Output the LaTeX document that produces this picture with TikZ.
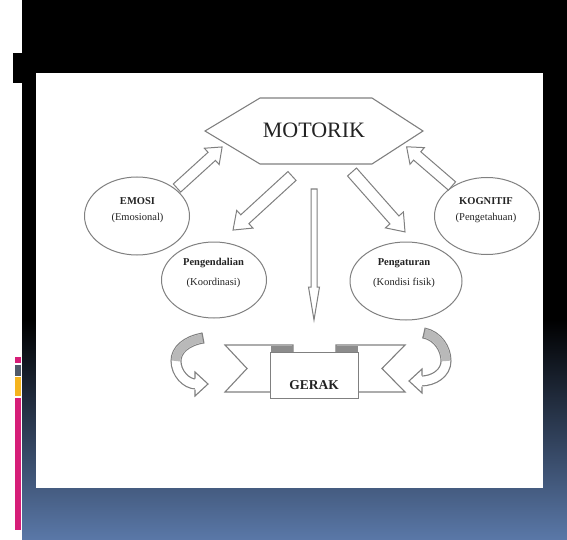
\documentclass[tikz,border=0pt]{standalone}
\usepackage{fontspec}
\setmainfont{Liberation Serif}
\usetikzlibrary{shapes.geometric}
\definecolor{lgray}{RGB}{128,128,128}
\definecolor{bgblue}{RGB}{90,120,168}
\definecolor{pinkbar}{RGB}{214,30,120}
\definecolor{graybar}{RGB}{80,90,105}
\definecolor{yellowbar}{RGB}{245,180,30}
\definecolor{foldgray}{RGB}{140,140,140}
\definecolor{bandgray}{RGB}{185,185,185}
\definecolor{txt}{RGB}{35,35,35}
% #1 start coordinate, #2 angle, #3 length, #4 shaft half width, #5 head half width, #6 head length
\newcommand\blockarrow[6]{%
  \draw[blockarr, shift={(#1)}, rotate=#2]
    (0,-#4) -- ({#3-#6},-#4) -- ({#3-#6},-#5) -- (#3,0) -- ({#3-#6},#5) -- ({#3-#6},#4) -- (0,#4) -- cycle;}
\begin{document}
\begin{tikzpicture}[x=1pt,y=-1pt,
  outl/.style={draw=lgray, line width=1.1pt},
  blockarr/.style={draw=lgray, fill=white, line width=1pt, line join=miter},
  oval/.style={ellipse, draw=lgray, line width=1pt, fill=white, inner sep=0pt},
  etext/.style={align=center, text=txt, inner sep=0pt, font=\fontsize{10.5}{16}\selectfont},
  bandout/.style={line width=11pt, draw=lgray},
  bandin/.style={line width=8.6pt, draw=white},
  bandback/.style={line width=8.6pt, draw=bandgray},
  headst/.style={fill=white, draw=lgray, line width=1.1pt, line join=miter}]
\useasboundingbox (0,0) rectangle (567,540);
% background
\fill[white] (0,0) rectangle (567,540);
\fill[black] (22,0) rectangle (567,321);
\shade[top color=black, bottom color=bgblue] (22,320) rectangle (567,540);
\fill[black] (13,53) rectangle (22.5,83);
\fill[pinkbar] (15,357) rectangle (21,363);
\fill[graybar] (15,365) rectangle (21,376);
\fill[yellowbar] (15,377) rectangle (21,396);
\fill[pinkbar] (15,398) rectangle (21,530);
\fill[white] (36,73) rectangle (543,488);

% MOTORIK hexagon
\draw[outl, fill=white] (205,131) -- (260,98) -- (372,98) -- (423,131) -- (372,164) -- (260,164) -- cycle;
\node[text=txt, font=\fontsize{22}{24}\selectfont, inner sep=0pt] (motorik) at (314,130) {MOTORIK};

% ellipses
\node[oval, minimum width=105pt, minimum height=78pt] (emosi) at (137,216) {};
\node[etext] (emosit) at (137.5,210.5) {\textbf{EMOSI}\\(Emosional)};
\node[oval, minimum width=105pt, minimum height=77pt] (kognitif) at (487,216) {};
\node[etext] (kognitift) at (486,210) {\textbf{KOGNITIF}\\(Pengetahuan)};
\node[oval, minimum width=105pt, minimum height=76pt] (pengendalian) at (214,280) {};
\node[etext] (pengendaliant) at (213.5,273) {\textbf{Pengendalian}\\[4pt](Koordinasi)};
\node[oval, minimum width=112pt, minimum height=78pt] (pengaturan) at (406,281) {};
\node[etext] (pengaturant) at (404,273) {\textbf{Pengaturan}\\[4pt](Kondisi fisik)};

% block arrows
\coordinate (a1s) at (177,188);
\coordinate (a2s) at (292,176);
\coordinate (a3s) at (352,172);
\coordinate (a4s) at (452,186);
\coordinate (a5s) at (314,189);
\blockarrow{a1s}{42.3}{61}{5.5}{11}{14}
\blockarrow{a2s}{222.5}{80}{6}{12}{16}
\blockarrow{a3s}{-48.5}{80}{6}{12}{16}
\blockarrow{a4s}{139.2}{60}{5.5}{11}{14}
\blockarrow{a5s}{-90}{131}{3}{5.5}{33}

% ribbon GERAK
\draw[outl, fill=white, line join=miter] (225,345) -- (293,345) -- (293,392) -- (225,392) -- (247,368.5) -- cycle;
\draw[outl, fill=white, line join=miter] (336,345) -- (405,345) -- (382,368.5) -- (405,392) -- (336,392) -- cycle;
\fill[foldgray] (270.5,345.5) rectangle (293,352);
\fill[foldgray] (336,345.5) rectangle (358,352);
\node[draw=lgray, line width=1.1pt, fill=white, minimum width=88pt, minimum height=46pt, inner sep=0pt,
      anchor=north west] (gerakbox) at (270,352) {};
\node[text=txt, font=\fontsize{13.5}{15}\bfseries, inner sep=0pt] (gerak) at (314,385) {GERAK};

% left curved arrow
\draw[bandout] (203,338) .. controls (186,341) and (176,350) .. (176,361) .. controls (176,373) and (186,384) .. (196,384);
\draw[bandin] (203,338) .. controls (186,341) and (176,350) .. (176,361) .. controls (176,373) and (186,384) .. (196,384);
\draw[bandback] (203,338) .. controls (186,341) and (176,350) .. (176,361);
\draw[draw=lgray, line width=1.1pt] (202,332.6) -- (204,343.4);
\filldraw[headst] (195,378.5) -- (195,372) -- (208,384) -- (195,396) -- (195,389.5);

% right curved arrow
\draw[bandout] (424,333) .. controls (438,336) and (446,349) .. (446,361) .. controls (446,373) and (434,381) .. (421,381);
\draw[bandin] (424,333) .. controls (438,336) and (446,349) .. (446,361) .. controls (446,373) and (434,381) .. (421,381);
\draw[bandback] (424,333) .. controls (438,336) and (446,349) .. (446,361);
\draw[draw=lgray, line width=1.1pt] (425.2,327.6) -- (422.8,338.4);
\filldraw[headst] (422,375.5) -- (422,369) -- (409,381) -- (422,393) -- (422,386.5);
\end{tikzpicture}
\end{document}
